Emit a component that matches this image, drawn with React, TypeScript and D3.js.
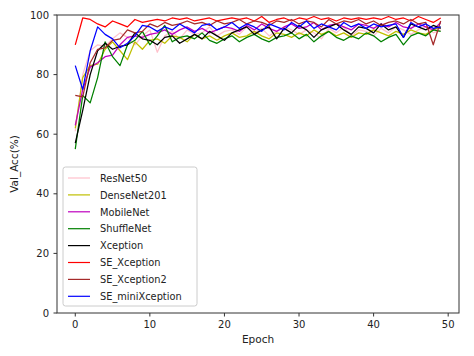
import React from "react";
import * as d3 from "d3";

const epochs: number[] = Array.from({ length: 50 }, (_, i) => i);

const resnet50 = [61, 80, 88, 90, 89.5, 92, 94, 92.5, 90, 93, 95, 87.5, 93, 94.5, 92, 95, 93.5, 94, 96, 93, 94.5, 95, 93.5, 96, 94, 95.5, 93, 94.5, 96, 95, 93.5, 95, 94, 92, 95.5, 94, 96, 93, 95, 94.5, 93, 95.5, 94, 96, 95, 93.5, 95, 96, 94, 95];
const densenet201 = [62, 79, 83, 83.5, 88.5, 91, 88, 85, 91, 88.5, 91.5, 92, 90.5, 93, 92.5, 91, 93.5, 92, 93, 91.5, 93, 94, 92.5, 93, 94.5, 93, 92, 94, 93.5, 92.5, 94, 93, 95, 93.5, 94.5, 93, 94, 92.5, 94, 93.5, 95, 94, 93, 94.5, 93.5, 95, 94, 93.5, 95, 96];
const mobilenet = [63, 75, 82.5, 84, 86, 86.5, 90, 92.5, 93, 92.5, 93.5, 94, 95, 93.5, 95, 96, 94.5, 95.5, 94, 95, 96, 95.5, 94.5, 96.5, 95, 97, 95.5, 94.5, 96, 97, 95.5, 96, 97.5, 95, 96.5, 97, 96, 95, 97, 96.5, 95.5, 97, 96, 97.5, 96, 95.5, 97, 96, 95, 97.5];
const shufflenet = [55, 73, 70.5, 79, 91, 86, 83, 90, 91.5, 94.5, 90, 93, 96.5, 91, 92.5, 93, 92, 94, 91.5, 90.5, 92, 93, 91, 92.5, 93.5, 92, 91, 92.5, 93, 94, 92, 93.5, 91, 93, 94.5, 92.5, 91.5, 93, 92, 94, 93, 91, 92.5, 93.5, 90, 93, 94, 93, 95, 94.5];
const xception = [57, 68, 80, 88, 90.5, 88.5, 89.5, 90, 94, 92, 91.5, 90, 92.5, 93, 90.5, 92, 93.5, 92, 94.5, 93, 91.5, 94, 95, 96, 93.5, 95, 96, 92, 95.5, 94, 96.5, 95, 92.5, 95, 96, 97, 95, 93.5, 96, 95.5, 94, 97, 95, 96, 92.5, 97, 96, 95, 96.5, 95.5];
const seXception = [90, 99, 98.5, 97, 96, 98, 97, 96, 98.5, 97.5, 98, 98.5, 98, 99, 98.5, 99, 98, 98.5, 99, 98, 98.5, 99, 98.5, 99, 98, 99.5, 97.5, 98.5, 99, 98, 99, 98.5, 99.5, 98.5, 99, 98, 99, 98.5, 99, 98.5, 99, 98.5, 99.5, 98.5, 99, 98, 99.5, 98.5, 97.5, 99];
const seXception2 = [73, 72.5, 84, 88.5, 89, 91.5, 92, 95, 94, 94.5, 97, 96, 97.5, 96.5, 97, 98, 97, 97.5, 96.5, 98, 97, 97.5, 98.5, 97, 98, 97.5, 96.5, 98, 97.5, 98.5, 97, 98, 97.5, 96, 98.5, 97, 98, 97.5, 98.5, 97, 98, 96.5, 97.5, 98, 97, 98.5, 97, 97.5, 90, 98];
const seMiniXception = [83, 75, 88, 96, 93.5, 92, 89, 90.5, 93, 96.5, 96, 94.5, 96, 95, 97, 95.5, 94, 96.5, 97, 95, 96, 97.5, 95.5, 97, 96, 94.5, 97, 96, 95, 97.5, 96, 98, 95.5, 97, 96, 95, 97.5, 96, 97, 95.5, 97, 96, 96.5, 97, 92.5, 97.5, 96, 97, 95.5, 96];

const seriesNames = ["ResNet50", "DenseNet201", "MobileNet", "ShuffleNet", "Xception", "SE_Xception", "SE_Xception2", "SE_miniXception"];
const seriesValues = [resnet50, densenet201, mobilenet, shufflenet, xception, seXception, seXception2, seMiniXception];
const seriesColors = ["#ffc0cb", "#bfbf00", "#bf00bf", "#008000", "#000000", "#ff0000", "#a52a2a", "#0000ff"];

const xTicks = [0, 10, 20, 30, 40, 50];
const yTicks = [0, 20, 40, 60, 80, 100];

const W = 474, H = 356;
const L = 57, R = 459, T = 15, B = 313;

export default function App() {
  const x = d3.scaleLinear().domain([-2.45, 51.45]).range([L, R]);
  const y = d3.scaleLinear().domain([0, 100]).range([B, T]);
  const line = d3.line<[number, number]>().x(d => x(d[0])).y(d => y(d[1]));
  const font = "'DejaVu Sans', sans-serif";
  const legX = 63, legY = 167, legW = 134, legH = 139, rowH = 16.9;
  return (
    <svg width={W} height={H} style={{ position: "absolute", left: 0, top: 0, background: "#fff" }}>
      <defs>
        <clipPath id="plot"><rect x={L} y={T} width={R - L} height={B - T} /></clipPath>
      </defs>
      <g clipPath="url(#plot)">
        {seriesValues.map((vals, i) => (
          <path key={seriesNames[i]} d={line(epochs.map(e => [e, vals[e]] as [number, number])) || ""}
            fill="none" stroke={seriesColors[i]} strokeWidth={1.25} strokeLinejoin="round" />
        ))}
      </g>
      <rect x={L} y={T} width={R - L} height={B - T} fill="none" stroke="#333" strokeWidth={1} />
      {xTicks.map(t => (
        <g key={"x" + t}>
          <line x1={x(t)} x2={x(t)} y1={B} y2={B + 3.5} stroke="#333" />
          <text x={x(t)} y={B + 15} textAnchor="middle" fontFamily={font} fontSize={10} fill="#222">{t}</text>
        </g>
      ))}
      {yTicks.map(t => (
        <g key={"y" + t}>
          <line x1={L - 3.5} x2={L} y1={y(t)} y2={y(t)} stroke="#333" />
          <text x={L - 8} y={y(t) + 3.6} textAnchor="end" fontFamily={font} fontSize={10} fill="#222">{t}</text>
        </g>
      ))}
      <text x={(L + R) / 2} y={343} textAnchor="middle" fontFamily={font} fontSize={10.5} fill="#222">Epoch</text>
      <text transform={`translate(18,${(T + B) / 2}) rotate(-90)`} textAnchor="middle" fontFamily={font} fontSize={10.5} fill="#222">Val_Acc(%)</text>
      <rect x={legX} y={legY} width={legW} height={legH} rx={2.5} fill="#fff" fillOpacity={0.85} stroke="#ccc" strokeWidth={1} />
      {seriesNames.map((n, i) => {
        const cy = legY + 11 + i * rowH;
        return (
          <g key={"leg" + n}>
            <line x1={legX + 5} x2={legX + 27} y1={cy} y2={cy} stroke={seriesColors[i]} strokeWidth={1.2} />
            <text x={legX + 37} y={cy + 3.7} fontFamily={font} fontSize={9.8} fill="#222">{n}</text>
          </g>
        );
      })}
    </svg>
  );
}
